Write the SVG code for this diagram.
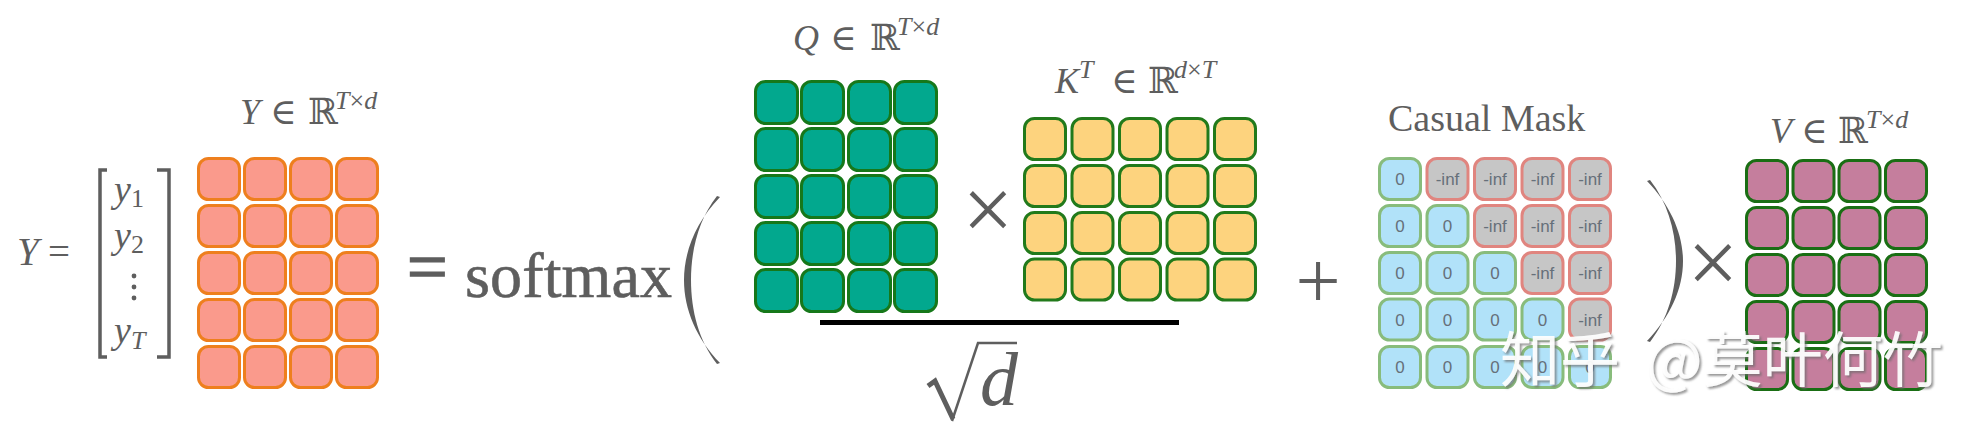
<svg xmlns="http://www.w3.org/2000/svg" width="1980" height="444" viewBox="0 0 1980 444">
<defs>
<filter id="wmshadow" x="-10%" y="-20%" width="130%" height="150%">
  <feDropShadow dx="2" dy="2" stdDeviation="0.8" flood-color="#6a6a6a" flood-opacity="0.75"/>
</filter>
</defs>
<style>
.bg{fill:#ffffff}
.t{font-family:"Liberation Serif","DejaVu Serif",serif;fill:#5e5e5e}
.i{font-style:italic}
.cy{fill:#fa9a8c;stroke:#ee7f1e;stroke-width:3}
.cq{fill:#02a88e;stroke:#16781a;stroke-width:3}
.ck{fill:#fdd37e;stroke:#227a1b;stroke-width:3}
.cv{fill:#c57e9d;stroke:#1a6e14;stroke-width:3}
.cz{fill:#b1e2f9;stroke:#88bc7c;stroke-width:3}
.cn{fill:#c6c6c6;stroke:#e0857f;stroke-width:3}
.m{font-family:"Liberation Sans","DejaVu Sans",sans-serif;font-size:17px;fill:#66707a;text-anchor:middle}
.dl{fill:#5e5e5e}
.br{fill:none;stroke:#5e5e5e;stroke-width:3.5}
.wm{font-family:"Noto Sans CJK SC","Noto Sans",sans-serif;font-size:60px;fill:#ffffff;fill-opacity:0.93;filter:url(#wmshadow)}
</style>
<rect class="bg" x="0" y="0" width="1980" height="444"/>

<g id="lhs">
  <text class="t" font-size="39" y="265"><tspan class="i" x="17">Y</tspan><tspan x="48">=</tspan></text>
  <path class="br" d="M107,170 H100 V357 H107"/>
  <path class="br" d="M157,170 H169 V357 H157"/>
  <text class="t i" font-size="38" x="114" y="202">y<tspan font-style="normal" font-size="26" dy="5">1</tspan></text>
  <text class="t i" font-size="38" x="114" y="248">y<tspan font-style="normal" font-size="26" dy="5">2</tspan></text>
  <circle class="dl" cx="134" cy="276" r="2.4"/>
  <circle class="dl" cx="134" cy="287" r="2.4"/>
  <circle class="dl" cx="134" cy="298" r="2.4"/>
  <text class="t i" font-size="38" x="114" y="343">y<tspan font-size="26" dy="6">T</tspan></text>
</g>

<g id="Y-matrix">
  <text class="t" font-size="36" y="124"><tspan class="i" x="240">Y</tspan><tspan x="270">∈</tspan><tspan x="308">ℝ</tspan><tspan class="i" x="335" y="109" font-size="26">T</tspan><tspan font-size="26">×</tspan><tspan class="i" font-size="26">d</tspan></text>
  <rect class="cy" x="198.5" y="158.5" width="41" height="41" rx="10"/><rect class="cy" x="244.5" y="158.5" width="41" height="41" rx="10"/><rect class="cy" x="290.5" y="158.5" width="41" height="41" rx="10"/><rect class="cy" x="336.5" y="158.5" width="41" height="41" rx="10"/>
  <rect class="cy" x="198.5" y="205.5" width="41" height="41" rx="10"/><rect class="cy" x="244.5" y="205.5" width="41" height="41" rx="10"/><rect class="cy" x="290.5" y="205.5" width="41" height="41" rx="10"/><rect class="cy" x="336.5" y="205.5" width="41" height="41" rx="10"/>
  <rect class="cy" x="198.5" y="252.5" width="41" height="41" rx="10"/><rect class="cy" x="244.5" y="252.5" width="41" height="41" rx="10"/><rect class="cy" x="290.5" y="252.5" width="41" height="41" rx="10"/><rect class="cy" x="336.5" y="252.5" width="41" height="41" rx="10"/>
  <rect class="cy" x="198.5" y="299.5" width="41" height="41" rx="10"/><rect class="cy" x="244.5" y="299.5" width="41" height="41" rx="10"/><rect class="cy" x="290.5" y="299.5" width="41" height="41" rx="10"/><rect class="cy" x="336.5" y="299.5" width="41" height="41" rx="10"/>
  <rect class="cy" x="198.5" y="346.5" width="41" height="41" rx="10"/><rect class="cy" x="244.5" y="346.5" width="41" height="41" rx="10"/><rect class="cy" x="290.5" y="346.5" width="41" height="41" rx="10"/><rect class="cy" x="336.5" y="346.5" width="41" height="41" rx="10"/>
</g>

<g id="softmax">
  <text class="t" font-size="72" x="407" y="291" stroke="#5e5e5e" stroke-width="1.6">=</text>
  <text class="t" font-size="64" x="465" y="297" textLength="207" lengthAdjust="spacing" stroke="#5e5e5e" stroke-width="0.6">softmax</text>
  <path class="dl" d="M720,197 C697,221 684,250 684,280 C684,310 697,339 720,363 L717,364 C699,341 691,311 691,280 C691,249 699,219 717,196 Z"/>
</g>

<g id="Q-matrix">
  <text class="t" font-size="36" y="50"><tspan class="i" x="793">Q</tspan><tspan x="830">∈</tspan><tspan x="870">ℝ</tspan><tspan class="i" x="897" y="35" font-size="26">T</tspan><tspan font-size="26">×</tspan><tspan class="i" font-size="26">d</tspan></text>
  <rect class="cq" x="755.5" y="81.5" width="42" height="42" rx="10"/><rect class="cq" x="801.5" y="81.5" width="42" height="42" rx="10"/><rect class="cq" x="848.5" y="81.5" width="42" height="42" rx="10"/><rect class="cq" x="894.5" y="81.5" width="42" height="42" rx="10"/>
  <rect class="cq" x="755.5" y="128.5" width="42" height="42" rx="10"/><rect class="cq" x="801.5" y="128.5" width="42" height="42" rx="10"/><rect class="cq" x="848.5" y="128.5" width="42" height="42" rx="10"/><rect class="cq" x="894.5" y="128.5" width="42" height="42" rx="10"/>
  <rect class="cq" x="755.5" y="175.5" width="42" height="42" rx="10"/><rect class="cq" x="801.5" y="175.5" width="42" height="42" rx="10"/><rect class="cq" x="848.5" y="175.5" width="42" height="42" rx="10"/><rect class="cq" x="894.5" y="175.5" width="42" height="42" rx="10"/>
  <rect class="cq" x="755.5" y="222.5" width="42" height="42" rx="10"/><rect class="cq" x="801.5" y="222.5" width="42" height="42" rx="10"/><rect class="cq" x="848.5" y="222.5" width="42" height="42" rx="10"/><rect class="cq" x="894.5" y="222.5" width="42" height="42" rx="10"/>
  <rect class="cq" x="755.5" y="269.5" width="42" height="42" rx="10"/><rect class="cq" x="801.5" y="269.5" width="42" height="42" rx="10"/><rect class="cq" x="848.5" y="269.5" width="42" height="42" rx="10"/><rect class="cq" x="894.5" y="269.5" width="42" height="42" rx="10"/>
</g>

<g id="times-1">
  <text class="t" font-size="90" x="988" y="240" text-anchor="middle">×</text>
</g>

<g id="K-matrix">
  <text class="t" font-size="36" y="93"><tspan class="i" x="1055">K</tspan><tspan class="i" font-size="26" y="78">T</tspan><tspan x="1111" y="93">∈</tspan><tspan x="1148">ℝ</tspan><tspan class="i" x="1174" y="78" font-size="26">d</tspan><tspan font-size="26">×</tspan><tspan class="i" font-size="26">T</tspan></text>
  <rect class="ck" x="1024.5" y="118.5" width="41" height="41" rx="10"/><rect class="ck" x="1072" y="118.5" width="41" height="41" rx="10"/><rect class="ck" x="1119.5" y="118.5" width="41" height="41" rx="10"/><rect class="ck" x="1167" y="118.5" width="41" height="41" rx="10"/><rect class="ck" x="1214.5" y="118.5" width="41" height="41" rx="10"/>
  <rect class="ck" x="1024.5" y="165.5" width="41" height="41" rx="10"/><rect class="ck" x="1072" y="165.5" width="41" height="41" rx="10"/><rect class="ck" x="1119.5" y="165.5" width="41" height="41" rx="10"/><rect class="ck" x="1167" y="165.5" width="41" height="41" rx="10"/><rect class="ck" x="1214.5" y="165.5" width="41" height="41" rx="10"/>
  <rect class="ck" x="1024.5" y="212.5" width="41" height="41" rx="10"/><rect class="ck" x="1072" y="212.5" width="41" height="41" rx="10"/><rect class="ck" x="1119.5" y="212.5" width="41" height="41" rx="10"/><rect class="ck" x="1167" y="212.5" width="41" height="41" rx="10"/><rect class="ck" x="1214.5" y="212.5" width="41" height="41" rx="10"/>
  <rect class="ck" x="1024.5" y="259" width="41" height="41" rx="10"/><rect class="ck" x="1072" y="259" width="41" height="41" rx="10"/><rect class="ck" x="1119.5" y="259" width="41" height="41" rx="10"/><rect class="ck" x="1167" y="259" width="41" height="41" rx="10"/><rect class="ck" x="1214.5" y="259" width="41" height="41" rx="10"/>
</g>

<g id="fraction">
  <rect x="820" y="320" width="359" height="5" fill="#000000"/>
  <path d="M928,386 L935,381 L953,419" fill="none" stroke="#5e5e5e" stroke-width="5" stroke-linejoin="miter"/>
  <path d="M952,421 L978,343 H1017" fill="none" stroke="#5e5e5e" stroke-width="2.5"/>
  <text class="t i" font-size="76" x="980" y="405">d</text>
</g>

<g id="plus">
  <text class="t" font-size="80" x="1318" y="308" text-anchor="middle">+</text>
</g>

<g id="mask">
  <text class="t" font-size="38" x="1388" y="131">Casual Mask</text>
  <rect class="cz" x="1379.5" y="158.5" width="41" height="41" rx="10"/><rect class="cn" x="1427" y="158.5" width="41" height="41" rx="10"/><rect class="cn" x="1474.5" y="158.5" width="41" height="41" rx="10"/><rect class="cn" x="1522" y="158.5" width="41" height="41" rx="10"/><rect class="cn" x="1569.5" y="158.5" width="41" height="41" rx="10"/>
  <rect class="cz" x="1379.5" y="205.5" width="41" height="41" rx="10"/><rect class="cz" x="1427" y="205.5" width="41" height="41" rx="10"/><rect class="cn" x="1474.5" y="205.5" width="41" height="41" rx="10"/><rect class="cn" x="1522" y="205.5" width="41" height="41" rx="10"/><rect class="cn" x="1569.5" y="205.5" width="41" height="41" rx="10"/>
  <rect class="cz" x="1379.5" y="252.5" width="41" height="41" rx="10"/><rect class="cz" x="1427" y="252.5" width="41" height="41" rx="10"/><rect class="cz" x="1474.5" y="252.5" width="41" height="41" rx="10"/><rect class="cn" x="1522" y="252.5" width="41" height="41" rx="10"/><rect class="cn" x="1569.5" y="252.5" width="41" height="41" rx="10"/>
  <rect class="cz" x="1379.5" y="299" width="41" height="41" rx="10"/><rect class="cz" x="1427" y="299" width="41" height="41" rx="10"/><rect class="cz" x="1474.5" y="299" width="41" height="41" rx="10"/><rect class="cz" x="1522" y="299" width="41" height="41" rx="10"/><rect class="cn" x="1569.5" y="299" width="41" height="41" rx="10"/>
  <rect class="cz" x="1379.5" y="346.5" width="41" height="41" rx="10"/><rect class="cz" x="1427" y="346.5" width="41" height="41" rx="10"/><rect class="cz" x="1474.5" y="346.5" width="41" height="41" rx="10"/><rect class="cz" x="1522" y="346.5" width="41" height="41" rx="10"/><rect class="cz" x="1569.5" y="346.5" width="41" height="41" rx="10"/>
  <text class="m" x="1400" y="185">0</text><text class="m" x="1447.5" y="185">-inf</text><text class="m" x="1495" y="185">-inf</text><text class="m" x="1542.5" y="185">-inf</text><text class="m" x="1590" y="185">-inf</text>
  <text class="m" x="1400" y="232">0</text><text class="m" x="1447.5" y="232">0</text><text class="m" x="1495" y="232">-inf</text><text class="m" x="1542.5" y="232">-inf</text><text class="m" x="1590" y="232">-inf</text>
  <text class="m" x="1400" y="279">0</text><text class="m" x="1447.5" y="279">0</text><text class="m" x="1495" y="279">0</text><text class="m" x="1542.5" y="279">-inf</text><text class="m" x="1590" y="279">-inf</text>
  <text class="m" x="1400" y="325.5">0</text><text class="m" x="1447.5" y="325.5">0</text><text class="m" x="1495" y="325.5">0</text><text class="m" x="1542.5" y="325.5">0</text><text class="m" x="1590" y="325.5">-inf</text>
  <text class="m" x="1400" y="373">0</text><text class="m" x="1447.5" y="373">0</text><text class="m" x="1495" y="373">0</text><text class="m" x="1542.5" y="373">0</text><text class="m" x="1590" y="373">0</text>
</g>

<g id="close-paren">
  <path class="dl" d="M1647,181 C1670,205 1683,233 1683,261 C1683,289 1670,317 1647,341 L1650,342 C1668,319 1676,290 1676,261 C1676,232 1668,203 1650,180 Z"/>
  <text class="t" font-size="90" x="1713" y="293" text-anchor="middle">×</text>
</g>

<g id="V-matrix">
  <text class="t" font-size="36" y="143"><tspan class="i" x="1770">V</tspan><tspan x="1801">∈</tspan><tspan x="1838">ℝ</tspan><tspan class="i" x="1866" y="128" font-size="26">T</tspan><tspan font-size="26">×</tspan><tspan class="i" font-size="26">d</tspan></text>
  <rect class="cv" x="1746.5" y="160.5" width="41" height="41" rx="10"/><rect class="cv" x="1793" y="160.5" width="41" height="41" rx="10"/><rect class="cv" x="1839" y="160.5" width="41" height="41" rx="10"/><rect class="cv" x="1885.5" y="160.5" width="41" height="41" rx="10"/>
  <rect class="cv" x="1746.5" y="207.5" width="41" height="41" rx="10"/><rect class="cv" x="1793" y="207.5" width="41" height="41" rx="10"/><rect class="cv" x="1839" y="207.5" width="41" height="41" rx="10"/><rect class="cv" x="1885.5" y="207.5" width="41" height="41" rx="10"/>
  <rect class="cv" x="1746.5" y="254.5" width="41" height="41" rx="10"/><rect class="cv" x="1793" y="254.5" width="41" height="41" rx="10"/><rect class="cv" x="1839" y="254.5" width="41" height="41" rx="10"/><rect class="cv" x="1885.5" y="254.5" width="41" height="41" rx="10"/>
  <rect class="cv" x="1746.5" y="301.5" width="41" height="41" rx="10"/><rect class="cv" x="1793" y="301.5" width="41" height="41" rx="10"/><rect class="cv" x="1839" y="301.5" width="41" height="41" rx="10"/><rect class="cv" x="1885.5" y="301.5" width="41" height="41" rx="10"/>
  <rect class="cv" x="1746.5" y="348.5" width="41" height="41" rx="10"/><rect class="cv" x="1793" y="348.5" width="41" height="41" rx="10"/><rect class="cv" x="1839" y="348.5" width="41" height="41" rx="10"/><rect class="cv" x="1885.5" y="348.5" width="41" height="41" rx="10"/>
</g>

<g id="watermark">
  <text class="wm" x="1500" y="382">知乎</text>
  <text class="wm" x="1646" y="382">@莫叶何竹</text>
</g>
</svg>
